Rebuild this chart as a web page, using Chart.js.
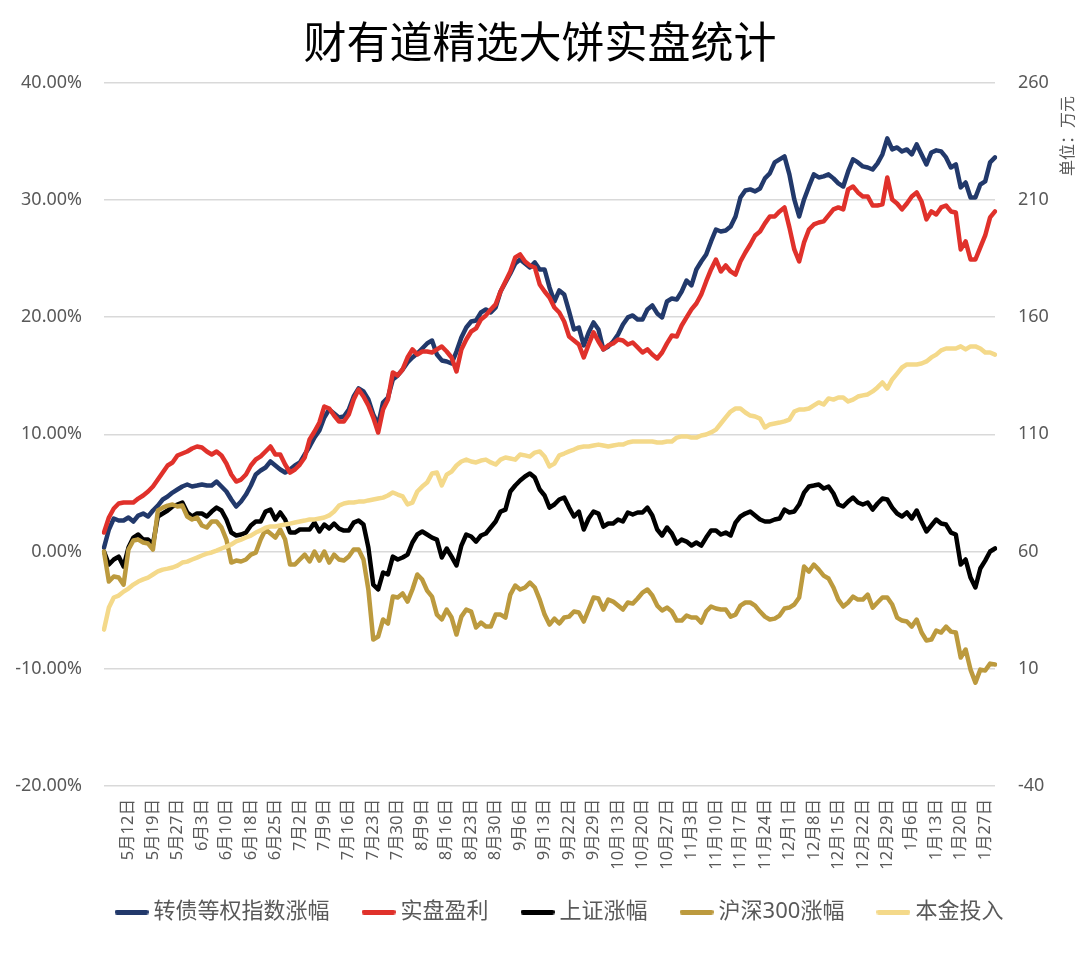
<!DOCTYPE html>
<html>
<head>
<meta charset="utf-8">
<script src="https://cdn.jsdelivr.net/npm/chart.js@4/dist/chart.umd.min.js"></script>
<style>
  html, body { margin: 0; padding: 0; background: #fff; }
  #wrap { width: 1080px; height: 958px; }
</style>
</head>
<body>
<div id="wrap"><canvas id="myChart" width="1080" height="958"></canvas></div>
<script>
// weekly tick labels, one every 5 trading days
const tickLabels = [
  "5月12日", "5月19日", "5月27日", "6月3日", "6月10日", "6月18日", "6月25日",
  "7月2日", "7月9日", "7月16日", "7月23日", "7月30日", "8月9日", "8月16日",
  "8月23日", "8月30日", "9月6日", "9月13日", "9月22日", "9月29日", "10月13日",
  "10月20日", "10月27日", "11月3日", "11月10日", "11月17日", "11月24日", "12月1日",
  "12月8日", "12月15日", "12月22日", "12月29日", "1月6日", "1月13日", "1月20日", "1月27日"
];

// 转债等权指数涨幅 (%)
const convertibleIndex = [
  0.34, 1.88, 2.82, 2.65, 2.65, 2.90, 2.56, 3.07, 3.24, 2.99,
  3.50, 3.92, 4.44, 4.69, 5.03, 5.29, 5.55, 5.72, 5.55, 5.63,
  5.72, 5.63, 5.63, 5.97, 5.55, 5.12, 4.44, 3.84, 4.27, 4.86,
  5.63, 6.57, 6.91, 7.17, 7.68, 7.34, 7.00, 6.74, 7.00, 7.34,
  7.59, 8.28, 8.96, 9.73, 10.32, 11.43, 12.12, 11.77, 11.43, 11.52,
  12.12, 13.23, 13.91, 13.65, 12.97, 11.69, 10.84, 12.71, 13.14, 14.68,
  15.02, 15.53, 16.13, 16.55, 16.89, 17.32, 17.75, 18.00, 16.81, 16.30,
  16.21, 16.04, 17.06, 18.26, 19.11, 19.62, 19.71, 20.39, 20.65, 20.39,
  20.82, 22.18, 22.95, 23.72, 24.57, 24.91, 24.57, 24.23, 24.66, 24.06,
  24.06, 22.53, 21.33, 22.27, 21.93, 20.48, 18.94, 19.11, 17.58, 18.69,
  19.54, 18.94, 17.24, 17.49, 17.92, 18.52, 19.37, 19.97, 20.14, 19.80,
  19.80, 20.65, 20.99, 20.31, 19.97, 21.33, 21.59, 21.50, 22.18, 23.12,
  22.70, 24.06, 24.74, 25.34, 26.45, 27.47, 27.30, 27.39, 27.73, 28.58,
  30.20, 30.80, 30.89, 30.72, 30.97, 31.83, 32.25, 33.19, 33.45, 33.70,
  32.17, 30.03, 28.58, 30.03, 31.14, 32.17, 31.91, 32.00, 32.17, 31.83,
  31.40, 31.14, 32.42, 33.45, 33.19, 32.85, 32.76, 32.59, 33.11, 33.87,
  35.24, 34.30, 34.47, 34.13, 34.30, 33.87, 34.73, 33.87, 33.02, 34.04,
  34.22, 34.13, 33.62, 32.76, 33.02, 31.06, 31.48, 30.20, 30.20, 31.31,
  31.57, 33.19, 33.62
];

// 实盘盈利 (%)
const realProfit = [
  1.62, 2.90, 3.67, 4.10, 4.18, 4.18, 4.18, 4.52, 4.78, 5.12,
  5.55, 6.14, 6.74, 7.34, 7.59, 8.19, 8.36, 8.53, 8.79, 8.96,
  8.87, 8.53, 8.28, 8.53, 8.19, 7.51, 6.57, 5.97, 6.14, 6.57,
  7.34, 7.85, 8.11, 8.53, 8.96, 8.28, 8.28, 7.42, 6.74, 7.00,
  7.42, 8.02, 9.56, 10.24, 11.01, 12.37, 12.20, 11.60, 11.09, 11.09,
  11.69, 12.97, 13.82, 13.23, 12.46, 11.43, 10.15, 12.12, 12.97, 15.27,
  15.02, 15.53, 16.55, 17.24, 16.81, 17.06, 17.06, 16.98, 17.24, 17.49,
  17.06, 16.55, 15.36, 17.24, 18.09, 18.77, 19.03, 19.80, 20.14, 20.65,
  21.08, 22.18, 23.04, 23.89, 25.09, 25.34, 24.74, 24.40, 24.23, 22.78,
  22.18, 21.67, 20.82, 20.39, 19.62, 18.34, 18.00, 17.66, 16.55, 17.66,
  18.69, 17.92, 17.24, 17.58, 17.75, 18.09, 18.00, 17.66, 17.83, 17.41,
  16.98, 17.24, 16.81, 16.47, 16.98, 17.75, 18.43, 18.34, 19.28, 19.97,
  20.65, 21.16, 21.93, 23.04, 24.06, 24.91, 23.89, 24.40, 23.89, 23.63,
  24.74, 25.51, 26.19, 26.96, 27.30, 27.99, 28.58, 28.58, 29.01, 29.35,
  27.65, 25.77, 24.74, 26.37, 27.47, 27.90, 28.07, 28.16, 28.67, 29.18,
  29.35, 29.18, 30.89, 31.14, 30.63, 30.29, 30.29, 29.52, 29.52, 29.61,
  31.91, 30.03, 29.69, 29.18, 29.69, 30.29, 30.63, 29.86, 28.33, 29.01,
  28.75, 29.35, 29.52, 29.01, 28.92, 25.77, 26.45, 24.91, 24.91, 25.94,
  26.96, 28.50, 29.01
];

// 上证涨幅 (%)
const shanghai = [
  0.00, -1.11, -0.68, -0.43, -1.28, 0.34, 1.19, 1.45, 1.02, 1.02,
  0.60, 2.99, 3.24, 3.50, 3.84, 4.01, 4.18, 3.33, 2.99, 3.24,
  3.24, 2.99, 3.41, 3.75, 3.50, 2.73, 1.62, 1.37, 1.45, 1.62,
  2.22, 2.56, 2.56, 3.41, 3.58, 2.73, 3.33, 2.73, 1.62, 1.62,
  1.88, 1.88, 1.88, 2.47, 1.71, 2.30, 1.96, 2.39, 1.96, 1.79,
  1.79, 2.47, 2.65, 2.30, 0.34, -2.82, -3.24, -1.79, -1.96, -0.43,
  -0.68, -0.51, -0.26, 0.77, 1.45, 1.71, 1.45, 1.19, 1.02, -0.51,
  0.26, -0.43, -1.19, 0.51, 1.45, 1.28, 0.85, 1.37, 1.54, 2.05,
  2.56, 3.41, 3.58, 5.12, 5.63, 6.06, 6.40, 6.66, 6.31, 5.29,
  4.78, 3.75, 4.01, 4.44, 4.61, 3.75, 2.99, 3.41, 1.88, 2.82,
  3.41, 3.24, 2.13, 2.39, 2.39, 2.73, 2.56, 3.33, 3.16, 3.33,
  3.33, 3.75, 3.07, 1.88, 1.37, 2.05, 1.54, 0.68, 1.02, 0.85,
  0.51, 0.77, 0.51, 1.19, 1.79, 1.79, 1.45, 1.62, 1.37, 2.47,
  2.99, 3.24, 3.41, 3.07, 2.73, 2.56, 2.56, 2.73, 2.82, 3.58,
  3.33, 3.41, 4.01, 5.03, 5.55, 5.63, 5.72, 5.38, 5.55, 4.95,
  4.01, 3.84, 4.27, 4.61, 4.18, 4.01, 4.18, 3.58, 4.10, 4.52,
  4.44, 3.75, 3.24, 2.99, 3.33, 2.82, 3.50, 2.56, 1.71, 2.22,
  2.73, 2.39, 2.30, 1.62, 1.45, -1.11, -0.68, -2.22, -3.07, -1.45,
  -0.77, 0.00, 0.26
];

// 沪深300涨幅 (%)
const csi300 = [
  0.00, -2.56, -2.13, -2.22, -2.82, 0.17, 0.94, 1.02, 0.77, 0.68,
  0.17, 3.50, 3.75, 3.92, 4.01, 3.84, 3.92, 2.99, 2.73, 2.90,
  2.22, 2.05, 2.56, 2.56, 2.05, 1.02, -0.94, -0.77, -0.85, -0.68,
  -0.26, -0.09, 1.02, 1.88, 1.54, 1.19, 1.88, 1.02, -1.11, -1.11,
  -0.68, -0.26, -0.85, 0.00, -0.77, 0.00, -0.94, -0.26, -0.68, -0.77,
  -0.43, 0.17, 0.17, -0.68, -3.24, -7.51, -7.25, -5.80, -6.14, -3.84,
  -3.92, -3.58, -4.27, -3.24, -1.96, -2.39, -3.33, -3.84, -5.38, -5.80,
  -4.95, -5.63, -7.08, -5.55, -4.95, -5.12, -6.48, -6.06, -6.40, -6.40,
  -5.38, -5.38, -5.63, -3.67, -2.90, -3.24, -3.07, -2.65, -3.07, -4.10,
  -5.38, -6.23, -5.72, -6.14, -5.63, -5.55, -5.12, -5.20, -5.97, -4.95,
  -3.92, -4.01, -4.95, -4.10, -4.27, -4.61, -4.95, -4.35, -4.44, -4.01,
  -3.50, -3.24, -3.75, -4.61, -5.03, -4.78, -5.12, -5.89, -5.89, -5.46,
  -5.63, -5.63, -6.06, -5.12, -4.69, -4.86, -4.95, -4.95, -5.55, -5.38,
  -4.61, -4.35, -4.35, -4.61, -5.12, -5.55, -5.80, -5.72, -5.46, -4.86,
  -4.78, -4.52, -3.92, -1.28, -1.71, -1.11, -1.54, -2.05, -2.30, -3.07,
  -4.10, -4.69, -4.35, -3.84, -4.10, -4.10, -3.67, -4.78, -4.35, -3.92,
  -3.92, -4.52, -5.63, -5.89, -5.97, -6.40, -5.80, -6.91, -7.59, -7.51,
  -6.74, -6.91, -6.40, -6.83, -6.91, -9.04, -8.36, -10.07, -11.18, -10.07,
  -10.15, -9.56, -9.64
];

// 本金投入 (万元, right axis)
const principal = [
  26.7, 36.1, 40.4, 41.2, 42.9, 44.2, 45.9, 47.2, 48.1, 48.9,
  50.2, 51.5, 52.3, 52.7, 53.2, 54.0, 55.3, 55.7, 56.6, 57.4,
  58.3, 59.1, 59.6, 60.4, 61.3, 62.1, 63.0, 64.3, 65.1, 66.0,
  66.8, 68.1, 69.0, 70.2, 70.7, 70.7, 71.1, 71.5, 71.9, 72.4,
  72.8, 73.2, 73.7, 73.7, 74.1, 74.5, 75.4, 77.1, 79.6, 80.5,
  80.9, 80.9, 81.3, 81.3, 81.8, 82.2, 82.6, 83.0, 83.9, 85.2,
  84.3, 83.5, 80.1, 80.9, 85.6, 87.7, 89.4, 93.3, 93.7, 88.2,
  92.8, 94.1, 96.7, 98.4, 99.2, 98.4, 98.0, 98.8, 99.2, 98.0,
  97.1, 99.2, 100.1, 99.7, 99.2, 101.4, 101.0, 100.5, 102.2, 102.7,
  100.5, 96.3, 97.5, 101.0, 101.8, 102.7, 103.5, 104.4, 104.8, 104.8,
  105.2, 105.6, 105.2, 104.8, 105.2, 105.6, 105.6, 106.5, 106.9, 106.9,
  106.9, 106.9, 106.9, 106.5, 106.5, 106.9, 106.9, 108.6, 109.1, 109.1,
  108.6, 108.6, 109.5, 109.9, 110.8, 112.0, 114.6, 117.2, 119.7, 121.0,
  121.0, 119.3, 118.0, 117.6, 116.7, 112.9, 114.2, 114.6, 115.0, 115.5,
  116.3, 119.7, 120.6, 120.6, 121.0, 122.3, 123.6, 122.7, 125.3, 124.8,
  125.7, 125.7, 124.0, 124.8, 126.1, 126.6, 127.0, 128.3, 130.0, 132.1,
  129.5, 133.4, 135.9, 138.5, 139.8, 139.8, 139.8, 140.2, 141.1, 142.8,
  144.0, 145.8, 146.6, 146.6, 146.6, 147.5, 146.2, 147.5, 147.5, 146.6,
  144.9, 144.9, 144.0
];

// one category per trading day, only every 5th one gets a date
const labels = convertibleIndex.map((_, i) =>
  i > 0 && i % 5 === 0 && tickLabels[i / 5 - 1] ? tickLabels[i / 5 - 1] : ""
);

const GREY = "#595959";
Chart.defaults.font.family = '"Noto Sans", "Noto Sans CJK SC", sans-serif';
Chart.defaults.color = GREY;

// short thick stroke used as the legend marker
const legendStroke = (color) => {
  const c = document.createElement("canvas");
  c.width = 34;
  c.height = 5;
  const g = c.getContext("2d");
  g.fillStyle = color;
  g.beginPath();
  g.roundRect(0, 0, 34, 5, 2.5);
  g.fill();
  return c;
};

const lineSeries = (label, data, color, order, axis) => ({
  label,
  data,
  borderColor: color,
  backgroundColor: color,
  borderWidth: 4.5,
  pointRadius: 0,
  pointStyle: legendStroke(color),
  tension: 0,
  borderJoinStyle: "round",
  borderCapStyle: "round",
  yAxisID: axis || "y",
  order
});

const tweaks = {
  id: "tweaks",
  afterLayout(chart) {
    // the legend row sits a little right of centre and tucks up under the dates
    const lg = chart.legend;
    lg.left += 22;
    lg.right += 22;
    lg.top -= 19;
    lg.bottom -= 19;
  },
  afterDraw(chart) {
    // right side unit label, rotated so it reads bottom to top
    const { ctx } = chart;
    ctx.save();
    ctx.translate(chart.width - 13, 136);
    ctx.rotate(-Math.PI / 2);
    ctx.font = '16px "Noto Sans CJK SC", sans-serif';
    ctx.fillStyle = GREY;
    ctx.textAlign = "center";
    ctx.textBaseline = "middle";
    ctx.fillText("单位：万元", 0, 0);
    ctx.restore();
  }
};

new Chart(document.getElementById("myChart"), {
  type: "line",
  data: {
    labels,
    datasets: [
      lineSeries("转债等权指数涨幅", convertibleIndex, "#22396B", 5),
      lineSeries("实盘盈利", realProfit, "#E0312B", 4),
      lineSeries("上证涨幅", shanghai, "#000000", 3),
      lineSeries("沪深300涨幅", csi300, "#BC9A3E", 2),
      lineSeries("本金投入", principal, "#F4D98A", 1, "y1")
    ]
  },
  options: {
    responsive: false,
    animation: false,
    layout: { padding: { left: 0, right: 0, top: 0, bottom: 6 } },
    plugins: {
      title: {
        display: true,
        text: "财有道精选大饼实盘统计",
        color: "#000",
        font: { size: 43, weight: "normal", family: '"Noto Sans CJK SC", sans-serif' },
        padding: { top: 16, bottom: 15 }
      },
      legend: {
        position: "bottom",
        labels: {
          usePointStyle: true,
          pointStyleWidth: 22,
          boxHeight: 5,
          padding: 38,
          color: GREY,
          font: { size: 22 },
          sort: (a, b) => a.datasetIndex - b.datasetIndex
        }
      },
      tooltip: { enabled: false }
    },
    scales: {
      x: {
        grid: { display: false, drawTicks: false },
        border: { display: false },
        ticks: {
          autoSkip: false,
          maxRotation: 90,
          minRotation: 90,
          padding: 13,
          color: GREY,
          font: { size: 16.5 }
        },
        afterFit: (scale) => { scale.height = 96; }
      },
      y: {
        position: "left",
        min: -20,
        max: 40,
        ticks: {
          stepSize: 10,
          padding: 22,
          color: GREY,
          font: { size: 18 },
          callback: (v) => v.toFixed(2) + "%"
        },
        grid: { color: "#D9D9D9", lineWidth: 1.5, drawTicks: false },
        border: { display: false },
        afterFit: (scale) => { scale.width = 104; }
      },
      y1: {
        position: "right",
        min: -40,
        max: 260,
        ticks: {
          stepSize: 50,
          padding: 23,
          color: GREY,
          font: { size: 18 }
        },
        grid: { display: false, drawTicks: false },
        border: { display: false },
        afterFit: (scale) => { scale.width = 85; }
      }
    }
  },
  plugins: [tweaks]
});
</script>
</body>
</html>
